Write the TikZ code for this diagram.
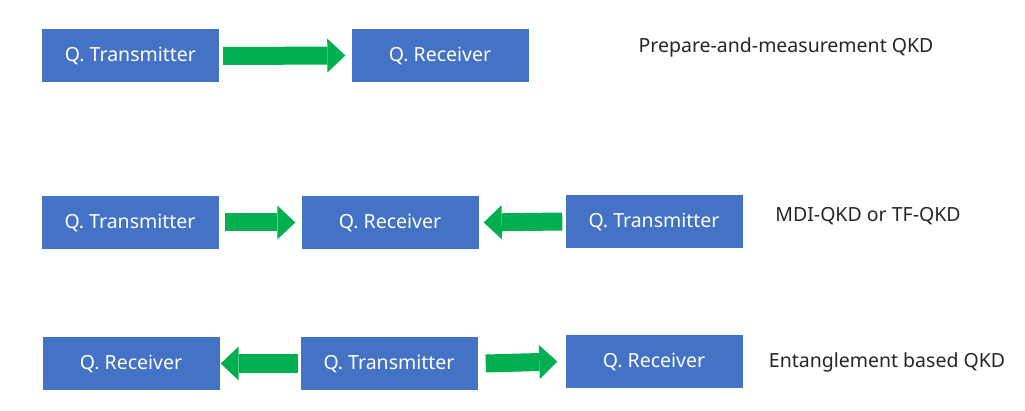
\documentclass[tikz,border=0pt]{standalone}
\usepackage{fontspec}
\setmainfont{Noto Sans}
\usetikzlibrary{arrows.meta}
\definecolor{boxblue}{HTML}{4472C4}
\definecolor{arrgreen}{HTML}{00B050}
\definecolor{labelgray}{HTML}{262626}
\tikzset{
  qbox/.style={fill=boxblue, text=white, minimum width=177pt, minimum height=53pt, inner sep=0pt, font=\fontsize{19.5}{22}\selectfont},
  fat/.style={draw=arrgreen, line width=18pt, -{Triangle[length=18pt,width=34pt,line width=0pt]}},
  qlabel/.style={text=labelgray, font=\fontsize{19.5}{22}\selectfont, inner sep=0pt}
}
\begin{document}
\begin{tikzpicture}[x=1pt,y=-1pt]
\useasboundingbox[fill=white] (0,0) rectangle (1025,411);
% row 1
\node[qbox] (a1) at (130.5,56) {Q. Transmitter};
\node[qbox] (b1) at (440,55.5) {Q. Receiver};
\node[qlabel] (l1) at (786,47) {Prepare-and-measurement QKD};
\draw[fat] ([xshift=4pt]a1.east) -- ([xshift=-6pt]b1.west);
% row 2
\node[qbox] (a2) at (130,222.5) {Q. Transmitter};
\node[qbox] (b2) at (390,222.5) {Q. Receiver};
\node[qbox] (c2) at (654,221.5) {Q. Transmitter};
\node[qlabel] (l2) at (868,216) {MDI-QKD or TF-QKD};
\draw[fat] ([xshift=6pt]a2.east) -- ([xshift=-6pt]b2.west);
\draw[fat] ([xshift=-3pt]c2.west) -- ([xshift=5pt]b2.east);
% row 3
\node[qbox] (a3) at (131,363.5) {Q. Receiver};
\node[qbox] (b3) at (389,363.5) {Q. Transmitter};
\node[qlabel] (l3) at (887,362) {Entanglement based QKD};
\node[qbox] (c3) at (654,361.5) {Q. Receiver};
\draw[fat] ([xshift=-2pt]b3.west) -- ([xshift=1pt]a3.east);
\draw[fat] ([xshift=8pt]b3.east) -- ([xshift=-8pt]c3.west);
\end{tikzpicture}
\end{document}
